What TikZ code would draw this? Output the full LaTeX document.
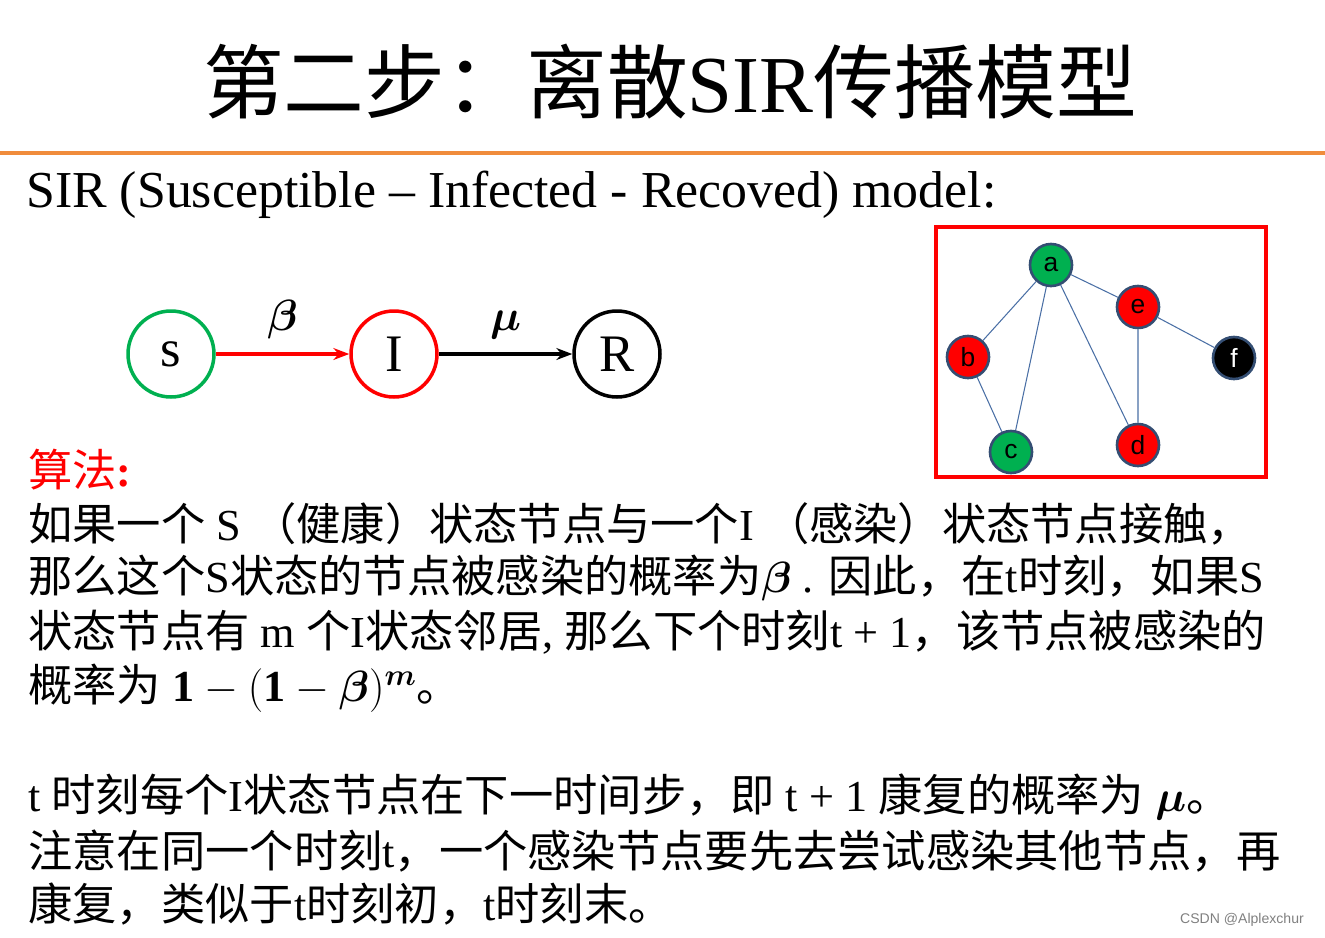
\documentclass[tikz,border=0pt]{standalone}
\usepackage{amsmath}
\usepackage{fontspec}
\setmainfont{Liberation Serif}
\newfontfamily\cjk{Noto Sans CJK SC}
\newfontfamily\sansf{Liberation Sans}
\usetikzlibrary{arrows.meta}
\XeTeXinterchartokenstate=1
\newXeTeXintercharclass\cjkclass
\count255="4E00
\loop\XeTeXcharclass\count255=\cjkclass\ifnum\count255<"9FFF\advance\count255 1\repeat
\count255="3000
\loop\XeTeXcharclass\count255=\cjkclass\ifnum\count255<"303F\advance\count255 1\repeat
\count255="FF00
\loop\XeTeXcharclass\count255=\cjkclass\ifnum\count255<"FFEF\advance\count255 1\repeat
\XeTeXinterchartoks 0 \cjkclass={\cjk}
\XeTeXinterchartoks 4095 \cjkclass={\cjk}
\XeTeXinterchartoks \cjkclass 0={\rmfamily}
\XeTeXinterchartoks \cjkclass 4095={\rmfamily}
\definecolor{gn}{HTML}{00B050}
\definecolor{edge}{HTML}{4A6FA5}
\definecolor{orng}{HTML}{F08C3C}
\tikzset{
 st/.style={circle,draw,line width=2pt,minimum size=1.72cm,inner sep=0pt,font=\fontsize{30}{30}\selectfont},
 gnode/.style={circle,draw=edge!70!black,line width=1.5pt,minimum size=0.84cm,inner sep=0pt,font=\sansf\fontsize{15}{15}\selectfont},
 body/.style={anchor=west,inner sep=0pt,font=\fontsize{25.2}{30}\selectfont},
 gedge/.style={edge,line width=0.6pt}
}
\begin{document}
\begin{tikzpicture}[x=0.02cm,y=-0.02cm]
\useasboundingbox (0,0) rectangle (1325,937);
\node (title) at (670,82) {\fontsize{46}{50}\selectfont 第二步：离散SIR传播模型};
\draw[orng,line width=2.3pt] (0,153) -- (1325,153);
\node[anchor=west,inner sep=0pt,font=\fontsize{29.5}{30}\selectfont] (sir) at (26,195) {SIR (Susceptible – Infected - Recoved) model:};
\node[st,draw=gn] (s) at (171,354) {s};
\node[st,draw=red] (i) at (394,354) {I};
\node[st,draw=black] (r) at (617,354) {R};
\draw[red,line width=2pt,-{Stealth[length=9pt]}] (s) -- node[above=4pt,black,font=\fontsize{30}{30}\selectfont]{$\boldsymbol{\beta}$} (i);
\draw[black,line width=2pt,-{Stealth[length=9pt]}] (i) -- node[above=4pt,font=\fontsize{30}{30}\selectfont]{$\boldsymbol{\mu}$} (r);
\draw[red,line width=2pt] (936,227) rectangle (1266,477);
\node[gnode,fill=gn] (a) at (1051,265) {a};
\node[gnode,fill=red] (e) at (1138,307) {e};
\node[gnode,fill=black,text=white] (f) at (1234,358) {f};
\node[gnode,fill=red] (b) at (968,357) {b};
\node[gnode,fill=gn] (c) at (1011,452) {c};
\node[gnode,fill=red] (d) at (1138,445) {d};
\draw[gedge] (a)--(b) (a)--(c) (a)--(e) (a)--(d) (b)--(c) (e)--(f) (e)--(d);
\node[body,text=red] (alg) at (28,470) {算法\textbf{:}};
\node[body] (l1) at (28,524) {如果一个 S （健康）状态节点与一个I （感染）状态节点接触，};
\node[body] (l2) at (28,578) {那么这个S状态的节点被感染的概率为$\boldsymbol{\beta}$ . 因此，在t时刻，如果S};
\node[body] (l3) at (28,632) {状态节点有 m 个I状态邻居, 那么下个时刻t + 1，该节点被感染的};
\node[body] (l4) at (28,688) {概率为 $\mathbf{1}-(\mathbf{1}-\boldsymbol{\beta})^{\boldsymbol{m}}$。};
\node[body] (l5) at (28,797) {t 时刻每个I状态节点在下一时间步，即 t + 1 康复的概率为 $\boldsymbol{\mu}$。};
\node[body] (l6) at (28,851) {注意在同一个时刻t，一个感染节点要先去尝试感染其他节点，再};
\node[body] (l7) at (28,904) {康复，类似于t时刻初，t时刻末。};
\node[anchor=east,text=gray,font=\sansf\fontsize{8}{9}\selectfont] (wm) at (1310,920) {CSDN @Alplexchur};
\end{tikzpicture}
\end{document}
